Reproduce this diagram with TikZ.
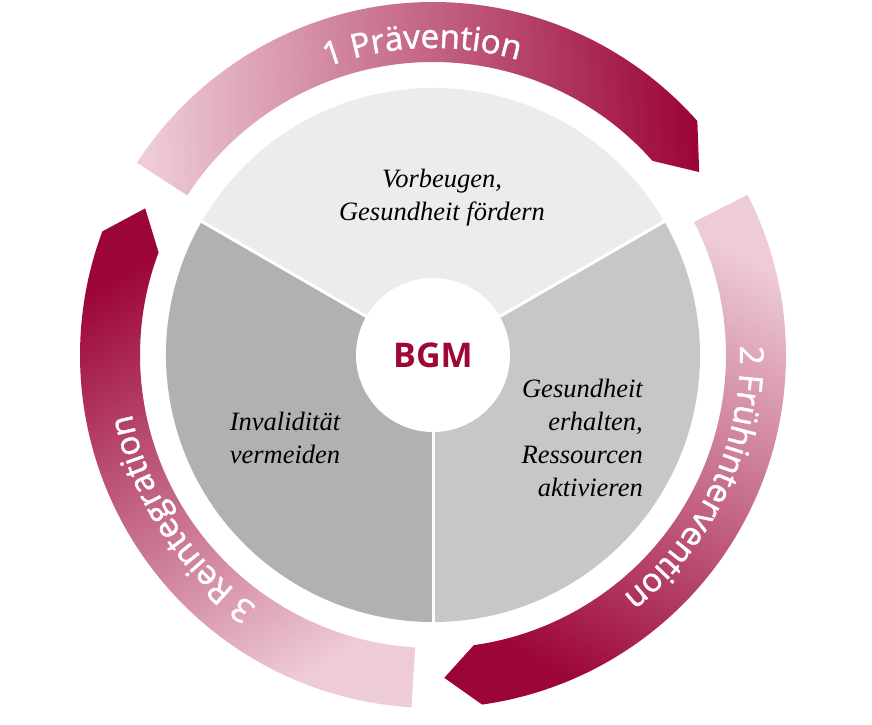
\documentclass[tikz,border=0pt]{standalone}
\usepackage{fontspec}
\setsansfont{Open Sans}
\newfontfamily\labelserif{Liberation Serif}
\usetikzlibrary{decorations.text}
\definecolor{crimson}{RGB}{156,6,54}
\definecolor{blush}{RGB}{238,204,215}
\definecolor{secA}{RGB}{236,236,236}
\definecolor{secB}{RGB}{198,199,198}
\definecolor{secC}{RGB}{176,177,176}
\definecolor{bgmred}{RGB}{158,8,52}
\newcommand{\arcTxt}{\sffamily\addfontfeatures{FakeBold=1.5}\fontsize{33}{38}\selectfont}
\tikzset{
  sector/.style={draw=none},
  divider/.style={draw=white, line width=3pt},
  seclabel/.style={font=\labelserif\itshape\fontsize{26.5}{33}\selectfont, inner sep=0pt},
  hub/.style={circle, fill=white, minimum size=154pt, inner sep=0pt,
    font=\sffamily\bfseries\fontsize{34}{34}\selectfont, text=bgmred},
  ringtext/.style={decorate, decoration={text along path, text align=center,
    text color=white, text={#1}}}
}
\begin{document}
\begin{tikzpicture}[x=1pt, y=1pt]
\useasboundingbox (-433,-369) rectangle (439,355);
% ring arrows
\shade[bottom color=blush, top color=crimson, shading angle=-88]
  (147:353) arc[start angle=147, end angle=41.5, radius=353] -- (34.5:323)
  -- (41.5:293) arc[start angle=41.5, end angle=147, radius=293] -- cycle;
\shade[bottom color=blush, top color=crimson, shading angle=152]
  (27:353) arc[start angle=27, end angle=-82, radius=353] -- (-88:323)
  -- (-82:293) arc[start angle=-82, end angle=27, radius=293] -- cycle;
\shade[bottom color=blush, top color=crimson, shading angle=32]
  (266.5:353) arc[start angle=266.5, end angle=159.5, radius=353] -- (153:323)
  -- (159.5:293) arc[start angle=159.5, end angle=266.5, radius=293] -- cycle;
% ring labels
\path[ringtext={|\arcTxt|1 Prävention}]
  (152:307) arc[start angle=152, end angle=32, radius=307];
\path[ringtext={|\arcTxt|2 Frühintervention}]
  (35:307) arc[start angle=35, end angle=-85, radius=307];
\path[ringtext={|\arcTxt|3 Reintegration}]
  (273:307) arc[start angle=273, end angle=153, radius=307];
% pie
\fill[secA] (0,0) -- (30:267) arc[start angle=30, end angle=150, radius=267] -- cycle;
\fill[secB] (0,0) -- (-90:267) arc[start angle=-90, end angle=30, radius=267] -- cycle;
\fill[secC] (0,0) -- (150:267) arc[start angle=150, end angle=270, radius=267] -- cycle;
\draw[divider] (0,0) -- (30:268);
\draw[divider] (0,0) -- (150:268);
\draw[divider] (0,0) -- (270:268);
\node[hub] (bgm) at (0,0) {BGM};
\node[seclabel, align=center] (vorbeugen) at (9,157) {Vorbeugen,\\Gesundheit fördern};
\node[seclabel, align=center] (invaliditaet) at (-148,-83) {Invalidität\\vermeiden};
\node[seclabel, align=right, anchor=east] (erhalten) at (210,-83) {Gesundheit\\erhalten,\\Ressourcen\\aktivieren};
\end{tikzpicture}
\end{document}
